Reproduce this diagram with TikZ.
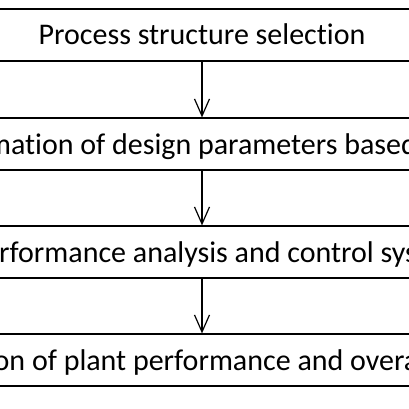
\documentclass[tikz,border=0pt]{standalone}
\usepackage{fontspec}
\setmainfont{Carlito}[RawFeature=-liga]
\usetikzlibrary{positioning,calc,arrows.meta}

\begin{document}
\begin{tikzpicture}[x=1pt, y=-1pt,
    stage/.style={draw, line width=1.2pt, minimum width=700pt, minimum height=52pt,
        inner sep=0pt, text height=26pt, text depth=6pt, font=\fontsize{30}{34}\selectfont},
    flow/.style={line width=1.2pt, -{Straight Barb[length=17pt, width=15pt]}}]
    \useasboundingbox (0,0) rectangle (409,409);

    % Stages (cut off at both sides)
    \node [stage] (select) at (202, 35) {Process structure selection};
    \node [stage] (design) at (202, 144) {mation of design parameters based};
    \node [stage] (perform) at (208, 252) {rformance analysis and control sys};
    \node [stage] (plant) at (206, 360) {on of plant performance and overa};

    % Arrows
    \draw [flow] (select.south) -- (select.south |- design.north);
    \draw [flow] (select.south |- design.south) -- (select.south |- perform.north);
    \draw [flow] (select.south |- perform.south) -- (select.south |- plant.north);
\end{tikzpicture}
\end{document}
